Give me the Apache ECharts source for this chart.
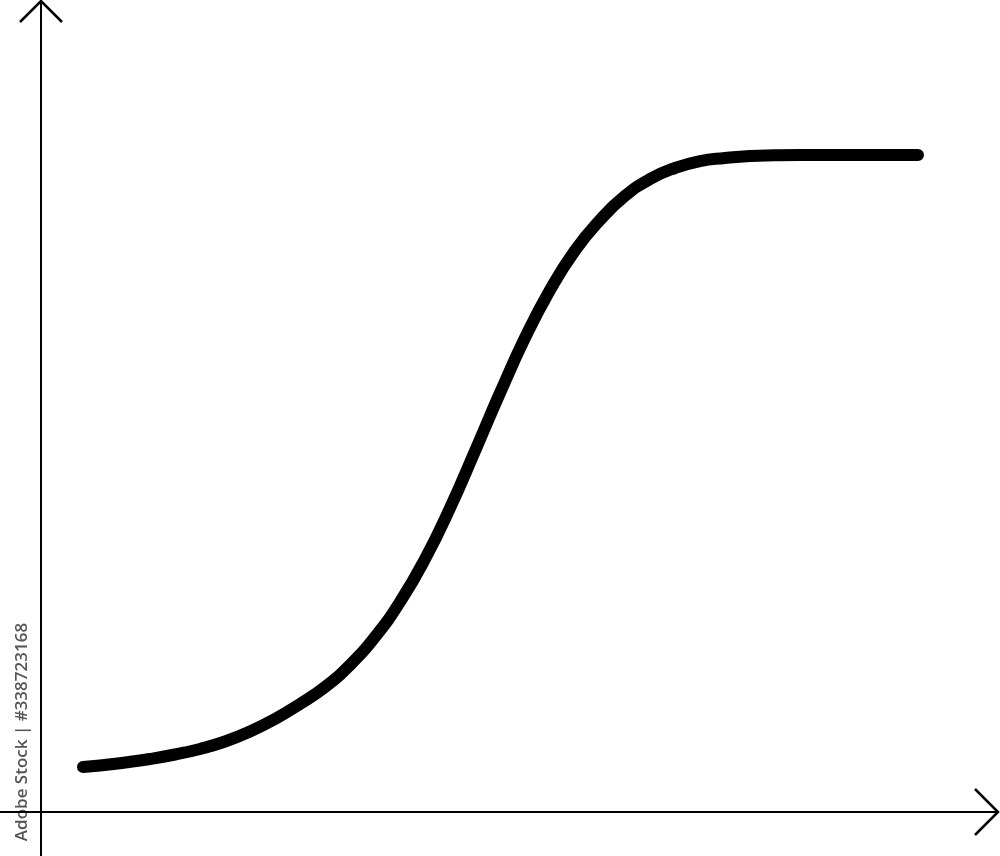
<!DOCTYPE html>
<html>
<head>
<meta charset="utf-8">
<script src="https://cdn.jsdelivr.net/npm/echarts@6/dist/echarts.min.js"></script>
<style>html,body{margin:0;padding:0;background:#fff;}#c{width:1000px;height:856px;}</style>
</head>
<body>
<div id="c"></div>
<script>
// Curve values (x: 0-100 along horizontal axis, y: 0-100 along vertical axis)
var curveX = [4.39, 6.17, 8.78, 11.39, 14.0, 16.61, 19.23, 21.84, 24.45, 27.06, 29.68, 32.29, 34.9, 37.51, 40.13, 42.74, 45.35, 47.96, 50.57, 53.19, 55.8, 58.41, 61.02, 63.64, 66.25, 68.86, 71.47, 74.09, 76.7, 79.31, 84.54, 91.64];
var curveY = [5.55, 5.73, 6.1, 6.54, 7.09, 7.77, 8.69, 9.93, 11.47, 13.32, 15.41, 18.13, 21.58, 25.89, 31.2, 37.48, 44.51, 51.66, 58.45, 64.36, 69.24, 73.0, 75.96, 78.05, 79.41, 80.27, 80.64, 80.89, 80.97, 81.0, 81.0, 81.0];
var watermark = 'Adobe Stock | #338723168';

var pts = curveX.map(function (x, i) { return [x, curveY[i]]; });

var chart = echarts.init(document.getElementById('c'), null, {renderer: 'canvas'});
var axisCommon = {
  type: 'value',
  axisLine: {show: true, onZero: true, lineStyle: {color: '#000', width: 2}},
  axisTick: {show: false},
  axisLabel: {show: false},
  splitLine: {show: false}
};
chart.setOption({
  backgroundColor: '#fff',
  animation: false,
  grid: {left: 0, right: 2, top: 1, bottom: 0, containLabel: false},
  xAxis: Object.assign({}, axisCommon, {min: -4.284, max: 100}),
  yAxis: Object.assign({}, axisCommon, {min: -5.425, max: 100}),
  series: [{
    type: 'line',
    data: pts,
    smooth: 0.5,
    showSymbol: false,
    lineStyle: {color: '#000', width: 12, cap: 'round', join: 'round'}
  }]
});

var xTip = chart.convertToPixel({gridIndex: 0}, [100, 0]);
var yTip = chart.convertToPixel({gridIndex: 0}, [0, 100]);
var a = 23;
chart.setOption({
  graphic: [
    {type: 'polyline', shape: {points: [[xTip[0] - a, xTip[1] - a], [xTip[0], xTip[1]], [xTip[0] - a, xTip[1] + a]]},
     style: {stroke: '#000', lineWidth: 2.5, fill: null}},
    {type: 'polyline', shape: {points: [[yTip[0] - 21, yTip[1] + 21], [yTip[0], yTip[1]], [yTip[0] + 21, yTip[1] + 21]]},
     style: {stroke: '#000', lineWidth: 2.5, fill: null}},
    {type: 'text', x: 22, y: 732, rotation: Math.PI / 2,
     style: {text: watermark, fill: '#555', font: '600 17px "Open Sans", sans-serif', align: 'center', verticalAlign: 'middle'}}
  ]
});
</script>
</body>
</html>
